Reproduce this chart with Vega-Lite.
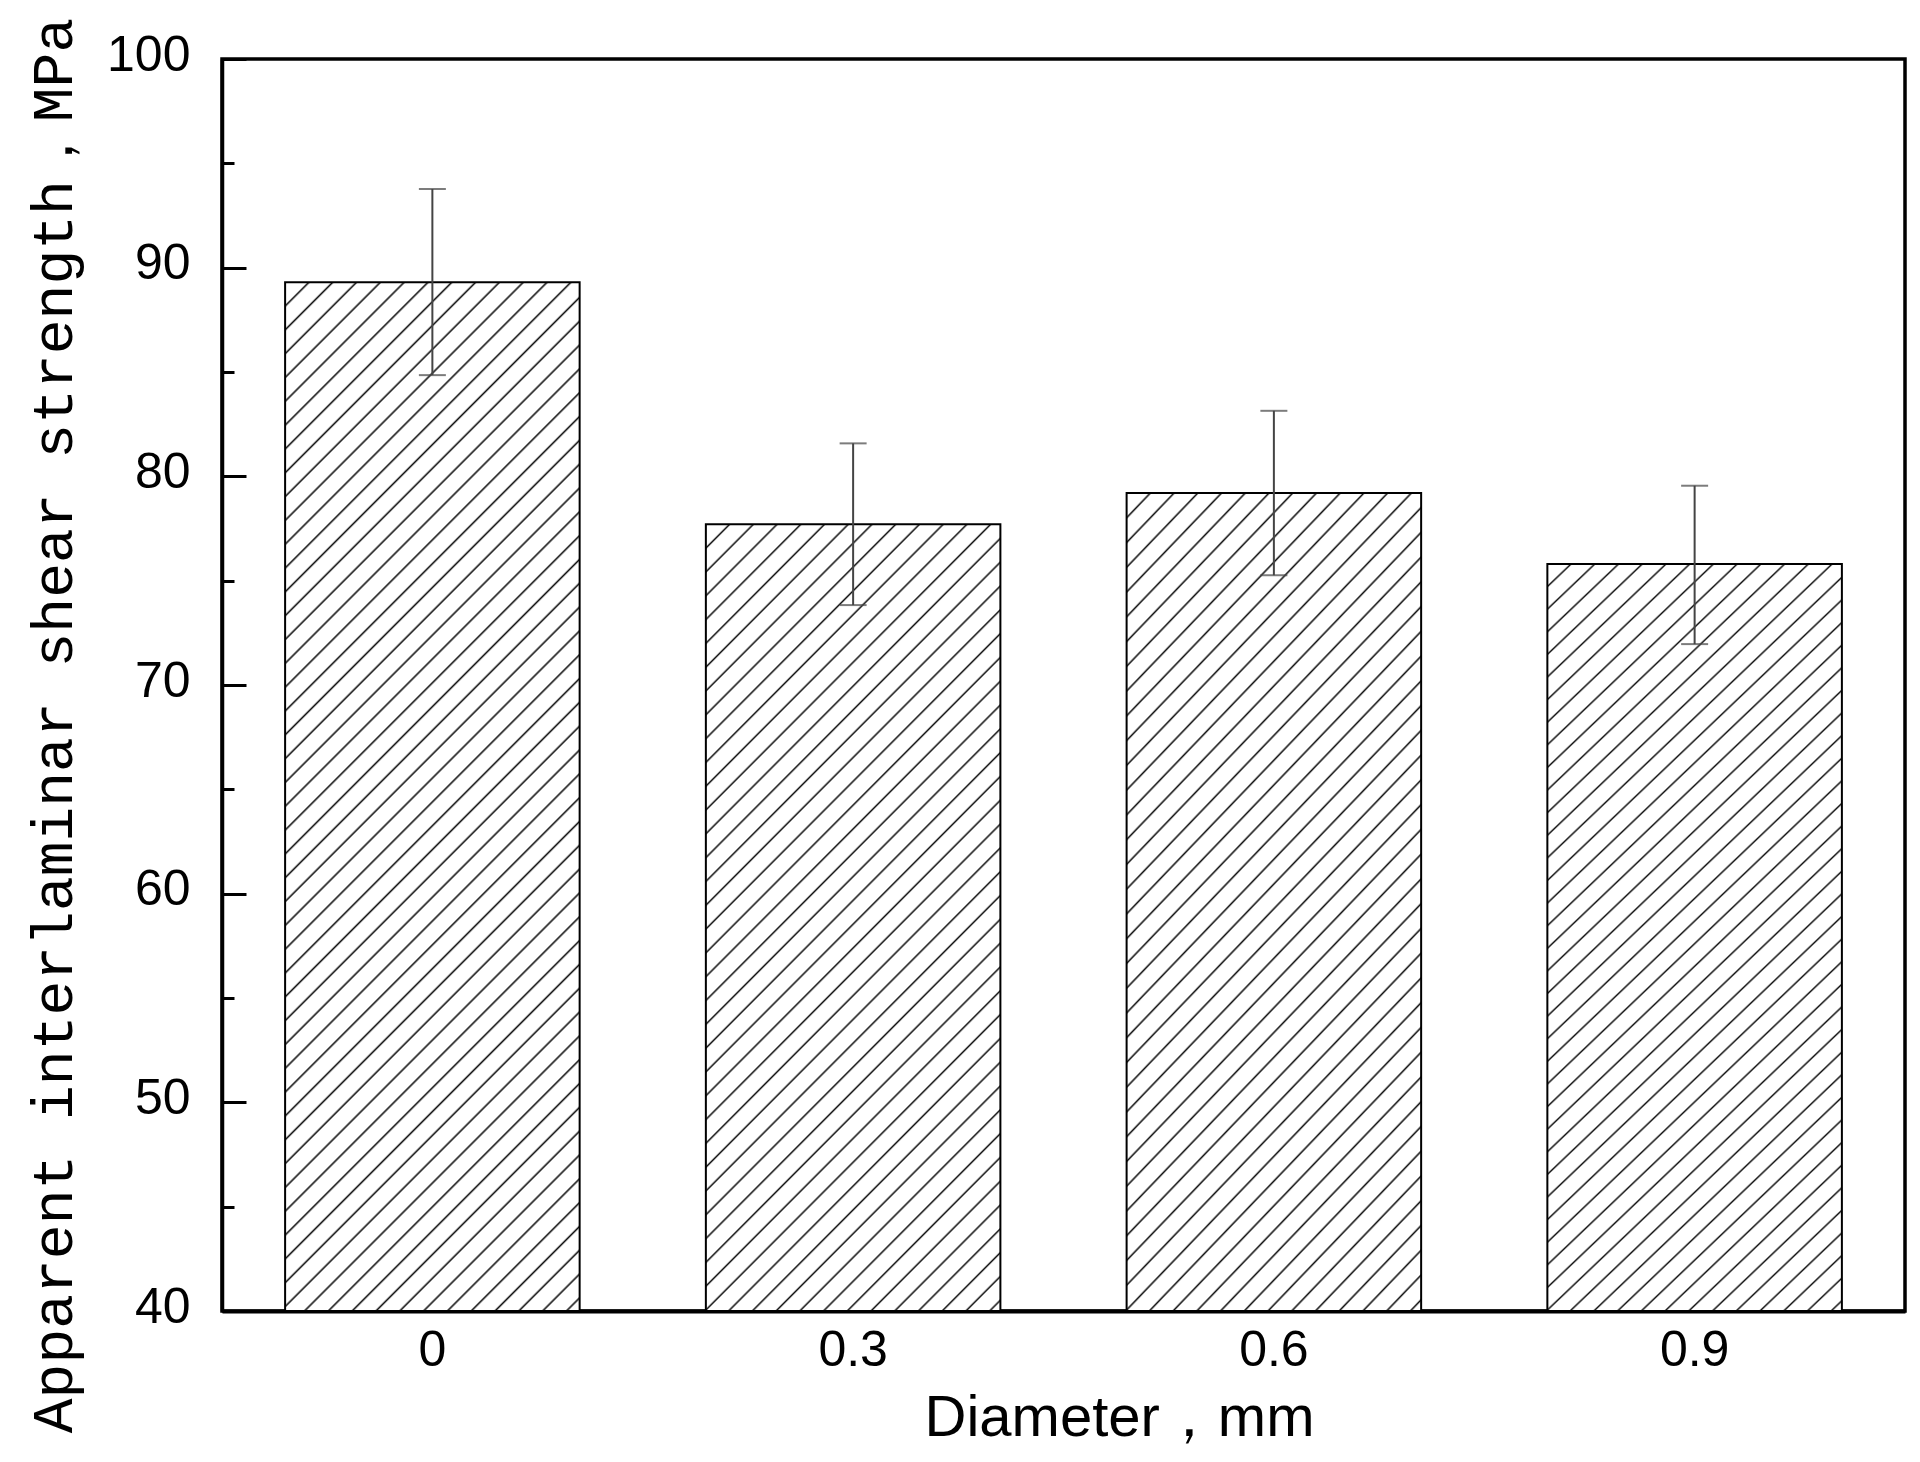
{
  "$schema": "https://vega.github.io/schema/vega-lite/v6.json",
  "description": "Apparent interlaminar shear strength vs diameter, hatched bars with error bars.",
  "width": 1683,
  "height": 1252,
  "autosize": "none",
  "padding": {"left": 222, "top": 59, "right": 15, "bottom": 151},
  "background": "white",
  "data": {
    "values": [
      {"diameter": "0", "strength": 89.3, "lo": 84.85, "hi": 93.77},
      {"diameter": "0.3", "strength": 77.7, "lo": 73.83, "hi": 81.58},
      {"diameter": "0.6", "strength": 79.2, "lo": 75.26, "hi": 83.14},
      {"diameter": "0.9", "strength": 75.8, "lo": 71.96, "hi": 79.55}
    ]
  },
  "layer": [
    {
      "mark": {"type": "bar", "stroke": "#000", "strokeWidth": 2},
      "encoding": {
        "x": {
          "field": "diameter",
          "type": "nominal",
          "scale": {"paddingInner": 0.3, "paddingOuter": 0.15},
          "axis": {
            "title": "Diameter，mm",
            "labelAngle": 0,
            "ticks": false,
            "labelPadding": 14,
            "labelFontSize": 50,
            "domainWidth": 4,
            "titleFontSize": 58,
            "titleX": 897,
            "titleY": 124,
            "titleAlign": "center",
            "titleBaseline": "alphabetic"
          }
        },
        "y": {
          "field": "strength",
          "type": "quantitative",
          "scale": {"domain": [40, 100], "nice": false, "zero": false},
          "axis": {
            "orient": "left",
            "values": [40, 50, 60, 70, 80, 90, 100],
            "ticks": false,
            "labelPadding": 32,
            "labelOffset": -4,
            "labelFontSize": 50,
            "domainWidth": 3.5,
            "title": "Apparent interlaminar shear strength，MPa",
            "titleFont": "Liberation Mono",
            "titleFontSize": 58,
            "titleAngle": 270,
            "titleX": -151,
            "titleY": 666,
            "titleAlign": "center",
            "titleBaseline": "alphabetic"
          }
        },
        "y2": {"datum": 40},
        "fill": {
          "condition": {
            "test": "datum.diameter === '0'",
            "value": {
              "gradient": "linear",
              "x1": 0, "y1": 0, "x2": 0.3405, "y2": 1.18893,
              "stops": [
                {"offset": 0.0163, "color": "#fff"}, {"offset": 0.018, "color": "#111"}, {"offset": 0.0197, "color": "#fff"},
                {"offset": 0.0343, "color": "#fff"}, {"offset": 0.036, "color": "#111"}, {"offset": 0.0377, "color": "#fff"},
                {"offset": 0.0523, "color": "#fff"}, {"offset": 0.054, "color": "#111"}, {"offset": 0.0557, "color": "#fff"},
                {"offset": 0.0703, "color": "#fff"}, {"offset": 0.072, "color": "#111"}, {"offset": 0.0737, "color": "#fff"},
                {"offset": 0.0883, "color": "#fff"}, {"offset": 0.09, "color": "#111"}, {"offset": 0.0917, "color": "#fff"},
                {"offset": 0.1063, "color": "#fff"}, {"offset": 0.108, "color": "#111"}, {"offset": 0.1097, "color": "#fff"},
                {"offset": 0.1243, "color": "#fff"}, {"offset": 0.126, "color": "#111"}, {"offset": 0.1277, "color": "#fff"},
                {"offset": 0.1423, "color": "#fff"}, {"offset": 0.144, "color": "#111"}, {"offset": 0.1457, "color": "#fff"},
                {"offset": 0.1603, "color": "#fff"}, {"offset": 0.162, "color": "#111"}, {"offset": 0.1637, "color": "#fff"},
                {"offset": 0.1783, "color": "#fff"}, {"offset": 0.18, "color": "#111"}, {"offset": 0.1817, "color": "#fff"},
                {"offset": 0.1963, "color": "#fff"}, {"offset": 0.198, "color": "#111"}, {"offset": 0.1997, "color": "#fff"},
                {"offset": 0.2143, "color": "#fff"}, {"offset": 0.216, "color": "#111"}, {"offset": 0.2177, "color": "#fff"},
                {"offset": 0.2323, "color": "#fff"}, {"offset": 0.234, "color": "#111"}, {"offset": 0.2357, "color": "#fff"},
                {"offset": 0.2503, "color": "#fff"}, {"offset": 0.252, "color": "#111"}, {"offset": 0.2537, "color": "#fff"},
                {"offset": 0.2683, "color": "#fff"}, {"offset": 0.27, "color": "#111"}, {"offset": 0.2717, "color": "#fff"},
                {"offset": 0.2863, "color": "#fff"}, {"offset": 0.288, "color": "#111"}, {"offset": 0.2897, "color": "#fff"},
                {"offset": 0.3043, "color": "#fff"}, {"offset": 0.306, "color": "#111"}, {"offset": 0.3077, "color": "#fff"},
                {"offset": 0.3223, "color": "#fff"}, {"offset": 0.324, "color": "#111"}, {"offset": 0.3257, "color": "#fff"},
                {"offset": 0.3403, "color": "#fff"}, {"offset": 0.342, "color": "#111"}, {"offset": 0.3437, "color": "#fff"},
                {"offset": 0.3583, "color": "#fff"}, {"offset": 0.36, "color": "#111"}, {"offset": 0.3617, "color": "#fff"},
                {"offset": 0.3763, "color": "#fff"}, {"offset": 0.378, "color": "#111"}, {"offset": 0.3797, "color": "#fff"},
                {"offset": 0.3943, "color": "#fff"}, {"offset": 0.396, "color": "#111"}, {"offset": 0.3977, "color": "#fff"},
                {"offset": 0.4123, "color": "#fff"}, {"offset": 0.414, "color": "#111"}, {"offset": 0.4157, "color": "#fff"},
                {"offset": 0.4303, "color": "#fff"}, {"offset": 0.432, "color": "#111"}, {"offset": 0.4337, "color": "#fff"},
                {"offset": 0.4483, "color": "#fff"}, {"offset": 0.45, "color": "#111"}, {"offset": 0.4517, "color": "#fff"},
                {"offset": 0.4663, "color": "#fff"}, {"offset": 0.468, "color": "#111"}, {"offset": 0.4697, "color": "#fff"},
                {"offset": 0.4843, "color": "#fff"}, {"offset": 0.486, "color": "#111"}, {"offset": 0.4877, "color": "#fff"},
                {"offset": 0.5023, "color": "#fff"}, {"offset": 0.504, "color": "#111"}, {"offset": 0.5057, "color": "#fff"},
                {"offset": 0.5203, "color": "#fff"}, {"offset": 0.522, "color": "#111"}, {"offset": 0.5237, "color": "#fff"},
                {"offset": 0.5383, "color": "#fff"}, {"offset": 0.54, "color": "#111"}, {"offset": 0.5417, "color": "#fff"},
                {"offset": 0.5563, "color": "#fff"}, {"offset": 0.558, "color": "#111"}, {"offset": 0.5597, "color": "#fff"},
                {"offset": 0.5743, "color": "#fff"}, {"offset": 0.576, "color": "#111"}, {"offset": 0.5777, "color": "#fff"},
                {"offset": 0.5923, "color": "#fff"}, {"offset": 0.594, "color": "#111"}, {"offset": 0.5957, "color": "#fff"},
                {"offset": 0.6103, "color": "#fff"}, {"offset": 0.612, "color": "#111"}, {"offset": 0.6137, "color": "#fff"},
                {"offset": 0.6283, "color": "#fff"}, {"offset": 0.63, "color": "#111"}, {"offset": 0.6317, "color": "#fff"},
                {"offset": 0.6463, "color": "#fff"}, {"offset": 0.648, "color": "#111"}, {"offset": 0.6497, "color": "#fff"},
                {"offset": 0.6643, "color": "#fff"}, {"offset": 0.666, "color": "#111"}, {"offset": 0.6677, "color": "#fff"},
                {"offset": 0.6823, "color": "#fff"}, {"offset": 0.684, "color": "#111"}, {"offset": 0.6857, "color": "#fff"},
                {"offset": 0.7003, "color": "#fff"}, {"offset": 0.702, "color": "#111"}, {"offset": 0.7037, "color": "#fff"},
                {"offset": 0.7183, "color": "#fff"}, {"offset": 0.72, "color": "#111"}, {"offset": 0.7217, "color": "#fff"},
                {"offset": 0.7363, "color": "#fff"}, {"offset": 0.738, "color": "#111"}, {"offset": 0.7397, "color": "#fff"},
                {"offset": 0.7543, "color": "#fff"}, {"offset": 0.756, "color": "#111"}, {"offset": 0.7577, "color": "#fff"},
                {"offset": 0.7723, "color": "#fff"}, {"offset": 0.774, "color": "#111"}, {"offset": 0.7757, "color": "#fff"},
                {"offset": 0.7903, "color": "#fff"}, {"offset": 0.792, "color": "#111"}, {"offset": 0.7937, "color": "#fff"},
                {"offset": 0.8083, "color": "#fff"}, {"offset": 0.81, "color": "#111"}, {"offset": 0.8117, "color": "#fff"},
                {"offset": 0.8263, "color": "#fff"}, {"offset": 0.828, "color": "#111"}, {"offset": 0.8297, "color": "#fff"},
                {"offset": 0.8443, "color": "#fff"}, {"offset": 0.846, "color": "#111"}, {"offset": 0.8477, "color": "#fff"},
                {"offset": 0.8623, "color": "#fff"}, {"offset": 0.864, "color": "#111"}, {"offset": 0.8657, "color": "#fff"},
                {"offset": 0.8803, "color": "#fff"}, {"offset": 0.882, "color": "#111"}, {"offset": 0.8837, "color": "#fff"},
                {"offset": 0.8983, "color": "#fff"}, {"offset": 0.9, "color": "#111"}, {"offset": 0.9017, "color": "#fff"},
                {"offset": 0.9163, "color": "#fff"}, {"offset": 0.918, "color": "#111"}, {"offset": 0.9197, "color": "#fff"},
                {"offset": 0.9343, "color": "#fff"}, {"offset": 0.936, "color": "#111"}, {"offset": 0.9377, "color": "#fff"},
                {"offset": 0.9523, "color": "#fff"}, {"offset": 0.954, "color": "#111"}, {"offset": 0.9557, "color": "#fff"},
                {"offset": 0.9703, "color": "#fff"}, {"offset": 0.972, "color": "#111"}, {"offset": 0.9737, "color": "#fff"},
                {"offset": 0.9883, "color": "#fff"}, {"offset": 0.99, "color": "#111"}, {"offset": 0.9917, "color": "#fff"}
              ]
            }
          },
          "value": {
            "gradient": "linear",
            "x1": 0, "y1": 0, "x2": 0.45285, "y2": 1.20556,
            "stops": [
              {"offset": 0.020, "color": "#fff"}, {"offset": 0.022, "color": "#111"}, {"offset": 0.024, "color": "#fff"},
              {"offset": 0.042, "color": "#fff"}, {"offset": 0.044, "color": "#111"}, {"offset": 0.046, "color": "#fff"},
              {"offset": 0.064, "color": "#fff"}, {"offset": 0.066, "color": "#111"}, {"offset": 0.068, "color": "#fff"},
              {"offset": 0.086, "color": "#fff"}, {"offset": 0.088, "color": "#111"}, {"offset": 0.090, "color": "#fff"},
              {"offset": 0.108, "color": "#fff"}, {"offset": 0.110, "color": "#111"}, {"offset": 0.112, "color": "#fff"},
              {"offset": 0.130, "color": "#fff"}, {"offset": 0.132, "color": "#111"}, {"offset": 0.134, "color": "#fff"},
              {"offset": 0.152, "color": "#fff"}, {"offset": 0.154, "color": "#111"}, {"offset": 0.156, "color": "#fff"},
              {"offset": 0.174, "color": "#fff"}, {"offset": 0.176, "color": "#111"}, {"offset": 0.178, "color": "#fff"},
              {"offset": 0.196, "color": "#fff"}, {"offset": 0.198, "color": "#111"}, {"offset": 0.200, "color": "#fff"},
              {"offset": 0.218, "color": "#fff"}, {"offset": 0.220, "color": "#111"}, {"offset": 0.222, "color": "#fff"},
              {"offset": 0.240, "color": "#fff"}, {"offset": 0.242, "color": "#111"}, {"offset": 0.244, "color": "#fff"},
              {"offset": 0.262, "color": "#fff"}, {"offset": 0.264, "color": "#111"}, {"offset": 0.266, "color": "#fff"},
              {"offset": 0.284, "color": "#fff"}, {"offset": 0.286, "color": "#111"}, {"offset": 0.288, "color": "#fff"},
              {"offset": 0.306, "color": "#fff"}, {"offset": 0.308, "color": "#111"}, {"offset": 0.310, "color": "#fff"},
              {"offset": 0.328, "color": "#fff"}, {"offset": 0.330, "color": "#111"}, {"offset": 0.332, "color": "#fff"},
              {"offset": 0.350, "color": "#fff"}, {"offset": 0.352, "color": "#111"}, {"offset": 0.354, "color": "#fff"},
              {"offset": 0.372, "color": "#fff"}, {"offset": 0.374, "color": "#111"}, {"offset": 0.376, "color": "#fff"},
              {"offset": 0.394, "color": "#fff"}, {"offset": 0.396, "color": "#111"}, {"offset": 0.398, "color": "#fff"},
              {"offset": 0.416, "color": "#fff"}, {"offset": 0.418, "color": "#111"}, {"offset": 0.420, "color": "#fff"},
              {"offset": 0.438, "color": "#fff"}, {"offset": 0.440, "color": "#111"}, {"offset": 0.442, "color": "#fff"},
              {"offset": 0.460, "color": "#fff"}, {"offset": 0.462, "color": "#111"}, {"offset": 0.464, "color": "#fff"},
              {"offset": 0.482, "color": "#fff"}, {"offset": 0.484, "color": "#111"}, {"offset": 0.486, "color": "#fff"},
              {"offset": 0.504, "color": "#fff"}, {"offset": 0.506, "color": "#111"}, {"offset": 0.508, "color": "#fff"},
              {"offset": 0.526, "color": "#fff"}, {"offset": 0.528, "color": "#111"}, {"offset": 0.530, "color": "#fff"},
              {"offset": 0.548, "color": "#fff"}, {"offset": 0.550, "color": "#111"}, {"offset": 0.552, "color": "#fff"},
              {"offset": 0.570, "color": "#fff"}, {"offset": 0.572, "color": "#111"}, {"offset": 0.574, "color": "#fff"},
              {"offset": 0.592, "color": "#fff"}, {"offset": 0.594, "color": "#111"}, {"offset": 0.596, "color": "#fff"},
              {"offset": 0.614, "color": "#fff"}, {"offset": 0.616, "color": "#111"}, {"offset": 0.618, "color": "#fff"},
              {"offset": 0.636, "color": "#fff"}, {"offset": 0.638, "color": "#111"}, {"offset": 0.640, "color": "#fff"},
              {"offset": 0.658, "color": "#fff"}, {"offset": 0.660, "color": "#111"}, {"offset": 0.662, "color": "#fff"},
              {"offset": 0.680, "color": "#fff"}, {"offset": 0.682, "color": "#111"}, {"offset": 0.684, "color": "#fff"},
              {"offset": 0.702, "color": "#fff"}, {"offset": 0.704, "color": "#111"}, {"offset": 0.706, "color": "#fff"},
              {"offset": 0.724, "color": "#fff"}, {"offset": 0.726, "color": "#111"}, {"offset": 0.728, "color": "#fff"},
              {"offset": 0.746, "color": "#fff"}, {"offset": 0.748, "color": "#111"}, {"offset": 0.750, "color": "#fff"},
              {"offset": 0.768, "color": "#fff"}, {"offset": 0.770, "color": "#111"}, {"offset": 0.772, "color": "#fff"},
              {"offset": 0.790, "color": "#fff"}, {"offset": 0.792, "color": "#111"}, {"offset": 0.794, "color": "#fff"},
              {"offset": 0.812, "color": "#fff"}, {"offset": 0.814, "color": "#111"}, {"offset": 0.816, "color": "#fff"},
              {"offset": 0.834, "color": "#fff"}, {"offset": 0.836, "color": "#111"}, {"offset": 0.838, "color": "#fff"},
              {"offset": 0.856, "color": "#fff"}, {"offset": 0.858, "color": "#111"}, {"offset": 0.860, "color": "#fff"},
              {"offset": 0.878, "color": "#fff"}, {"offset": 0.880, "color": "#111"}, {"offset": 0.882, "color": "#fff"},
              {"offset": 0.900, "color": "#fff"}, {"offset": 0.902, "color": "#111"}, {"offset": 0.904, "color": "#fff"},
              {"offset": 0.922, "color": "#fff"}, {"offset": 0.924, "color": "#111"}, {"offset": 0.926, "color": "#fff"},
              {"offset": 0.944, "color": "#fff"}, {"offset": 0.946, "color": "#111"}, {"offset": 0.948, "color": "#fff"},
              {"offset": 0.966, "color": "#fff"}, {"offset": 0.968, "color": "#111"}, {"offset": 0.970, "color": "#fff"},
              {"offset": 0.988, "color": "#fff"}, {"offset": 0.990, "color": "#111"}, {"offset": 0.992, "color": "#fff"}
            ]
          }
        }
      }
    },
    {
      "mark": {"type": "rule", "color": "#444", "strokeWidth": 2},
      "encoding": {
        "x": {"field": "diameter", "type": "nominal"},
        "y": {
          "field": "lo",
          "type": "quantitative",
          "axis": {
            "orient": "left",
            "values": [40, 45, 50, 55, 60, 65, 70, 75, 80, 85, 90, 95, 100],
            "labels": false,
            "domain": false,
            "title": null,
            "tickColor": {"condition": {"test": "datum.value % 10 === 0", "value": "#000"}, "value": "#000"},
            "tickWidth": {"condition": {"test": "datum.value % 10 === 0", "value": 3}, "value": 3},
            "tickSize": {"condition": {"test": "datum.value % 10 === 0", "value": -24}, "value": -12}
          }
        },
        "y2": {"field": "hi"}
      }
    },
    {
      "mark": {"type": "tick", "color": "#444", "size": 27, "thickness": 2},
      "encoding": {
        "x": {"field": "diameter", "type": "nominal"},
        "y": {"field": "lo", "type": "quantitative", "axis": null}
      }
    },
    {
      "mark": {"type": "tick", "color": "#444", "size": 27, "thickness": 2},
      "encoding": {
        "x": {"field": "diameter", "type": "nominal"},
        "y": {"field": "hi", "type": "quantitative", "axis": null}
      }
    }
  ],
  "resolve": {"axis": {"y": "independent"}},
  "config": {
    "view": {"stroke": "#000", "strokeWidth": 3.5},
    "axis": {
      "grid": false,
      "labelFont": "Liberation Sans",
      "titleFont": "Liberation Sans",
      "labelColor": "#000",
      "titleColor": "#000",
      "titleFontWeight": "normal",
      "domainColor": "#000"
    }
  }
}
